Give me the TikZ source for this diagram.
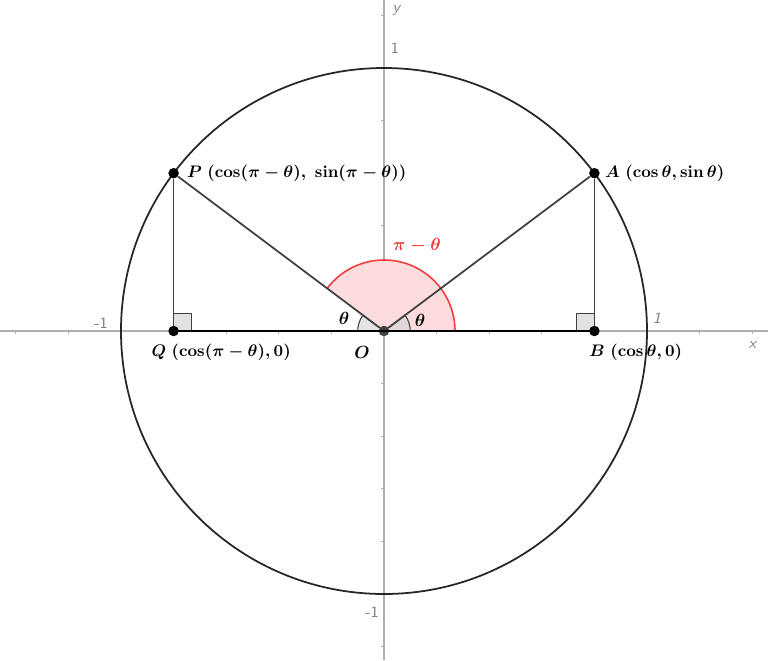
\documentclass[tikz,border=0pt]{standalone}
\usepackage{amsmath}
\usetikzlibrary{positioning}
\definecolor{axisgray}{RGB}{175,175,175}
\definecolor{linegray}{RGB}{64,64,64}
\definecolor{arcred}{RGB}{240,60,60}
\definecolor{sqgray}{RGB}{225,225,225}
\begin{document}
\begin{tikzpicture}[x=5.26cm, y=5.26cm,
    ptstyle/.style={circle, minimum size=2.1mm, inner sep=0pt, fill=black},
    axlabel/.style={text=gray, font=\sffamily\small},
    ptlabel/.style={anchor=west, inner sep=0pt, scale=0.95},
    seg/.style={draw=linegray, line width=1pt},
    rightsq/.style={fill=sqgray, draw=linegray, line width=0.6pt}
]
    \useasboundingbox (-1.4601,-1.2510) rectangle (1.4601,1.2586);

    % axes with small ticks
    \draw[axisgray, line width=0.6pt] (-1.4601,0) -- (1.4601,0);
    \draw[axisgray, line width=0.6pt] (0,-1.2510) -- (0,1.2586);
    \foreach \t in {-1.4,-1.2,...,1.41}
        \draw[axisgray, line width=0.4pt] (\t,0) -- (\t,-0.01);
    \foreach \t in {-1.2,-1.0,...,1.21}
        \draw[axisgray, line width=0.4pt] (0,\t) -- (-0.01,\t);
    \node[axlabel] at (0.049,1.22) (ylab) {\textit{y}};
    \node[axlabel] at (1.403,-0.053) (xlab) {\textit{x}};
    \node[axlabel] at (0.042,1.076) (ytop) {1};
    \node[axlabel] at (-0.046,-1.068) (ybot) {-1};
    \node[axlabel] at (-1.076,0.030) (xleft) {-1};
    \node[axlabel] at (1.038,0.049) (xright) {\textit{1}};

    % angle sectors
    \fill[arcred!18] (0,0) -- (0.27,0) arc[start angle=0, end angle=143.13, radius=0.27] -- cycle;
    \draw[arcred, line width=0.9pt] (0.27,0) arc[start angle=0, end angle=143.13, radius=0.27];
    \filldraw[fill=gray!35, fill opacity=0.6, draw=linegray, line width=0.6pt]
        (0,0) -- (-0.1,0) arc[start angle=180, end angle=143.13, radius=0.1] -- cycle;
    \filldraw[fill=gray!35, fill opacity=0.6, draw=linegray, line width=0.6pt]
        (0,0) -- (0.1,0) arc[start angle=0, end angle=36.87, radius=0.1] -- cycle;

    % unit circle
    \draw[black!85, line width=1pt] (0,0) circle (1);

    % right angles
    \draw[rightsq] (0.732,0) rectangle (0.8,0.068);
    \draw[rightsq] (-0.8,0) rectangle (-0.732,0.068);

    % points
    \node[ptstyle, fill=linegray] at (0,0) (O) {};
    \node[ptstyle] at (0.8,0.6) (A) {};
    \node[ptstyle] at (0.8,0) (B) {};
    \node[ptstyle] at (-0.8,0.6) (P) {};
    \node[ptstyle] at (-0.8,0) (Q) {};

    \draw[seg] (O) -- (A);
    \draw[seg] (O) -- (P);
    \draw[seg] (A) -- (B);
    \draw[seg] (P) -- (Q);
    \draw[black, line width=1.1pt] (Q) -- (B);

    % labels
    \node[ptlabel] at (0.84,0.6) (Alab) {{\boldmath$A\ (\cos\theta,\sin\theta)$}};
    \node[ptlabel] at (-0.75,0.6) (Plab) {{\boldmath$P\ (\cos(\pi-\theta),\ \sin(\pi-\theta))$}};
    \node[ptlabel] at (0.78,-0.082) (Blab) {{\boldmath$B\ (\cos\theta,0)$}};
    \node[ptlabel] at (-0.885,-0.082) (Qlab) {{\boldmath$Q\ (\cos(\pi-\theta),0)$}};
    \node at (-0.084,-0.080) (Olab) {{\boldmath$O$}};
    \node at (-0.152,0.049) (tl) {{\boldmath$\theta$}};
    \node at (0.137,0.042) (tr) {{\boldmath$\theta$}};
    \node[text=arcred] at (0.125,0.323) (pt) {{\boldmath$\pi-\theta$}};
\end{tikzpicture}
\end{document}
